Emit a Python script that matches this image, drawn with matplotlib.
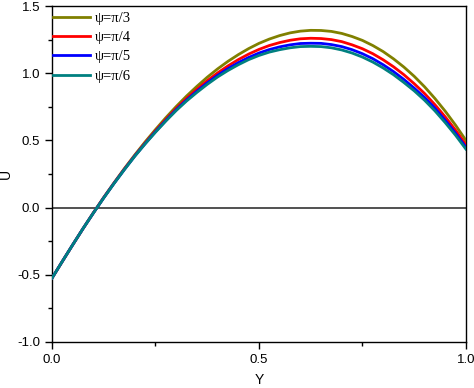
import matplotlib
matplotlib.use('Agg')
import matplotlib.pyplot as plt
from matplotlib.ticker import MultipleLocator

y_pos = [0.000, 0.025, 0.050, 0.075, 0.100, 0.125, 0.150, 0.175, 0.200, 0.225,
         0.250, 0.275, 0.300, 0.325, 0.350, 0.375, 0.400, 0.425, 0.450, 0.475,
         0.500, 0.525, 0.550, 0.575, 0.600, 0.625, 0.650, 0.675, 0.700, 0.725,
         0.750, 0.775, 0.800, 0.825, 0.850, 0.875, 0.900, 0.925, 0.950, 0.975, 1.000]

u_pi3 = [-0.525, -0.400, -0.277, -0.156, -0.038, 0.076, 0.185, 0.291, 0.392, 0.489,
         0.581, 0.669, 0.752, 0.830, 0.902, 0.970, 1.032, 1.088, 1.138, 1.183,
         1.222, 1.254, 1.280, 1.300, 1.313, 1.319, 1.318, 1.311, 1.296, 1.273,
         1.244, 1.206, 1.161, 1.107, 1.046, 0.977, 0.899, 0.812, 0.717, 0.613, 0.500]
u_pi4 = [-0.525, -0.400, -0.277, -0.156, -0.039, 0.075, 0.183, 0.288, 0.387, 0.481,
         0.571, 0.656, 0.737, 0.812, 0.880, 0.944, 1.002, 1.054, 1.101, 1.142,
         1.177, 1.206, 1.228, 1.245, 1.256, 1.260, 1.258, 1.250, 1.235, 1.211,
         1.182, 1.145, 1.100, 1.048, 0.989, 0.922, 0.849, 0.766, 0.675, 0.576, 0.468]
u_pi5 = [-0.525, -0.400, -0.277, -0.156, -0.040, 0.073, 0.181, 0.284, 0.384, 0.476,
         0.565, 0.648, 0.728, 0.800, 0.866, 0.928, 0.984, 1.034, 1.078, 1.117,
         1.150, 1.176, 1.196, 1.211, 1.221, 1.223, 1.222, 1.213, 1.198, 1.175,
         1.145, 1.108, 1.063, 1.012, 0.954, 0.889, 0.819, 0.740, 0.649, 0.553, 0.448]
u_pi6 = [-0.525, -0.400, -0.277, -0.156, -0.040, 0.072, 0.180, 0.283, 0.382, 0.474,
         0.561, 0.644, 0.722, 0.793, 0.857, 0.917, 0.972, 1.020, 1.063, 1.101,
         1.132, 1.157, 1.175, 1.189, 1.198, 1.200, 1.198, 1.189, 1.173, 1.150,
         1.120, 1.083, 1.039, 0.989, 0.931, 0.869, 0.799, 0.720, 0.632, 0.538, 0.435]

labels = ['ψ=π/3', 'ψ=π/4', 'ψ=π/5', 'ψ=π/6']
colors = ['#808000', '#ff0000', '#0000ff', '#008080']

plt.rcParams['font.family'] = ['Liberation Sans', 'DejaVu Sans']

fig = plt.figure(figsize=(4.74, 3.88), dpi=100)
ax = fig.add_axes([0.1097, 0.1186, 0.8733, 0.8659])

ax.axhline(0, color='#222222', lw=1.1, zorder=1)
for u, lab, c in zip([u_pi3, u_pi4, u_pi5, u_pi6], labels, colors):
    ax.plot(y_pos, u, color=c, lw=2.0, label=lab, zorder=3)

ax.set_xlim(0, 1)
ax.set_ylim(-1.0, 1.5)
ax.xaxis.set_major_locator(MultipleLocator(0.5))
ax.xaxis.set_minor_locator(MultipleLocator(0.25))
ax.yaxis.set_major_locator(MultipleLocator(0.5))
ax.yaxis.set_minor_locator(MultipleLocator(0.25))
ax.xaxis.set_major_formatter(plt.FormatStrFormatter('%.1f'))
ax.yaxis.set_major_formatter(plt.FormatStrFormatter('%.1f'))
ax.tick_params(which='both', direction='out', width=1.0, labelsize=9.5)
ax.tick_params(which='major', length=5)
ax.tick_params(which='minor', length=3)
for s in ax.spines.values():
    s.set_linewidth(1.0)

ax.set_xlabel('Y', fontsize=10, labelpad=5)
ax.set_ylabel('U', fontsize=10)
ax.yaxis.set_label_coords(-0.095, 0.5)

leg = ax.legend(loc='upper left', bbox_to_anchor=(0, 0.988), frameon=False,
                handlelength=2.5, borderaxespad=0, borderpad=0.1,
                labelspacing=0.42, handletextpad=0.34,
                prop={'family': 'Liberation Serif', 'size': 10.5})

fig.savefig('out.png', dpi=100)
